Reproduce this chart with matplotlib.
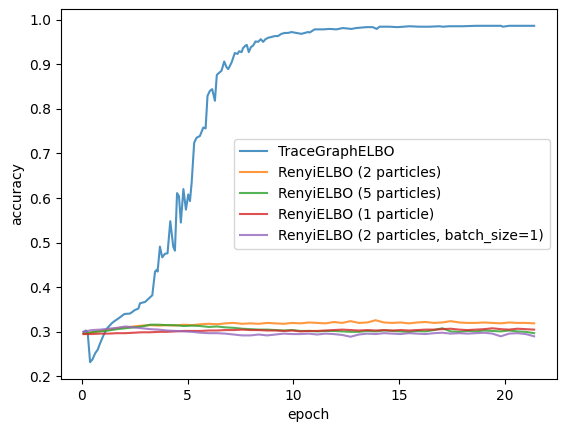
from matplotlib import pyplot as plt
import numpy as np

# TraceGraphELBO curve (epoch, accuracy)
trace_epoch = [0.08, 0.20, 0.28, 0.39, 0.50, 0.63, 0.75, 0.86, 1.02, 1.18, 1.41, 1.54,
               1.73, 2.01, 2.28, 2.51, 2.67, 2.75, 2.99, 3.17, 3.33, 3.46, 3.54, 3.58,
               3.69, 3.80, 3.93, 4.05, 4.18, 4.32, 4.40, 4.50, 4.59, 4.68, 4.80, 4.92,
               5.03, 5.11, 5.19, 5.31, 5.42, 5.58, 5.74, 5.85, 5.94, 6.05, 6.16, 6.29,
               6.38, 6.52, 6.60, 6.73, 6.84, 6.92, 7.08, 7.23, 7.36, 7.43, 7.55, 7.62,
               7.74, 7.80, 7.89, 7.99, 8.10, 8.21, 8.33, 8.46, 8.57, 8.68, 8.80, 8.96,
               9.12, 9.27, 9.43, 9.59, 9.75, 9.91, 10.14, 10.38, 10.69, 10.77, 11.00,
               11.40, 11.71, 12.03, 12.34, 12.74, 12.97, 13.44, 13.75, 13.94, 14.07,
               14.54, 14.93, 15.49, 15.96, 16.43, 16.90, 17.06, 17.37, 18.00, 18.63,
               19.26, 19.81, 19.90, 20.20, 20.83, 21.38]
trace_acc = [0.300, 0.303, 0.296, 0.232, 0.238, 0.252, 0.260, 0.274, 0.292, 0.307, 0.319, 0.324,
             0.330, 0.340, 0.341, 0.349, 0.352, 0.364, 0.367, 0.375, 0.382, 0.435, 0.439, 0.435,
             0.491, 0.467, 0.475, 0.476, 0.548, 0.491, 0.482, 0.611, 0.604, 0.545, 0.620, 0.574,
             0.608, 0.593, 0.634, 0.724, 0.735, 0.739, 0.758, 0.756, 0.829, 0.840, 0.844, 0.818,
             0.876, 0.882, 0.885, 0.906, 0.893, 0.889, 0.904, 0.925, 0.923, 0.929, 0.927, 0.936,
             0.942, 0.943, 0.927, 0.938, 0.942, 0.951, 0.950, 0.956, 0.950, 0.956, 0.959, 0.961,
             0.963, 0.963, 0.968, 0.970, 0.970, 0.972, 0.970, 0.968, 0.972, 0.971, 0.978,
             0.978, 0.979, 0.978, 0.981, 0.979, 0.981, 0.983, 0.983, 0.979, 0.984,
             0.984, 0.983, 0.985, 0.984, 0.984, 0.985, 0.984, 0.985, 0.985, 0.986,
             0.986, 0.986, 0.984, 0.986, 0.986, 0.986]

# epochs at which the Renyi runs were evaluated
renyi_epoch = np.linspace(0.08, 21.38, 55)

renyi_2p = [0.296, 0.299, 0.302, 0.305, 0.308, 0.310, 0.312, 0.314, 0.315, 0.314, 0.315,
            0.314, 0.316, 0.315, 0.317, 0.318, 0.317, 0.319, 0.320, 0.318, 0.319, 0.318,
            0.320, 0.319, 0.318, 0.320, 0.319, 0.321, 0.320, 0.319, 0.322, 0.320, 0.324,
            0.320, 0.321, 0.326, 0.321, 0.320, 0.321, 0.319, 0.321, 0.322, 0.320, 0.321,
            0.324, 0.321, 0.320, 0.320, 0.321, 0.320, 0.319, 0.321, 0.320, 0.320, 0.319]
renyi_5p = [0.296, 0.299, 0.301, 0.303, 0.306, 0.308, 0.310, 0.312, 0.316, 0.316, 0.315,
            0.315, 0.313, 0.314, 0.313, 0.311, 0.312, 0.310, 0.309, 0.307, 0.306, 0.305,
            0.305, 0.304, 0.303, 0.304, 0.302, 0.302, 0.301, 0.302, 0.302, 0.301, 0.300,
            0.300, 0.302, 0.301, 0.303, 0.302, 0.301, 0.300, 0.302, 0.301, 0.304, 0.308,
            0.301, 0.300, 0.302, 0.301, 0.303, 0.302, 0.301, 0.303, 0.301, 0.300, 0.297]
renyi_1p = [0.295, 0.295, 0.296, 0.296, 0.297, 0.297, 0.298, 0.299, 0.299, 0.300, 0.300,
            0.301, 0.302, 0.302, 0.302, 0.303, 0.303, 0.304, 0.304, 0.305, 0.304, 0.304,
            0.303, 0.303, 0.302, 0.303, 0.301, 0.302, 0.302, 0.303, 0.304, 0.305, 0.304,
            0.303, 0.304, 0.303, 0.304, 0.303, 0.304, 0.303, 0.304, 0.305, 0.305, 0.306,
            0.307, 0.305, 0.304, 0.305, 0.306, 0.308, 0.306, 0.305, 0.307, 0.306, 0.305]
renyi_2p_bs1 = [0.300, 0.304, 0.305, 0.307, 0.309, 0.312, 0.310, 0.308, 0.306, 0.305, 0.303,
                0.302, 0.301, 0.300, 0.298, 0.297, 0.297, 0.296, 0.294, 0.292, 0.292, 0.294,
                0.292, 0.294, 0.296, 0.295, 0.295, 0.296, 0.294, 0.296, 0.295, 0.293, 0.289,
                0.294, 0.296, 0.295, 0.297, 0.296, 0.295, 0.297, 0.296, 0.295, 0.297, 0.298,
                0.296, 0.297, 0.296, 0.297, 0.298, 0.296, 0.290, 0.296, 0.297, 0.295, 0.290]

fig = plt.figure(figsize=(5.67, 4.32), dpi=100)
ax = fig.add_subplot(111)
fig.subplots_adjust(left=0.1076, right=0.9818, bottom=0.1227, top=0.9792)

ax.plot(trace_epoch, trace_acc, alpha=0.8, label='TraceGraphELBO')
ax.plot(renyi_epoch, renyi_2p, alpha=0.8, label='RenyiELBO (2 particles)')
ax.plot(renyi_epoch, renyi_5p, alpha=0.8, label='RenyiELBO (5 particles)')
ax.plot(renyi_epoch, renyi_1p, alpha=0.8, label='RenyiELBO (1 particle)')
ax.plot(renyi_epoch, renyi_2p_bs1, alpha=0.8, label='RenyiELBO (2 particles, batch_size=1)')

ax.set_xlabel('epoch')
ax.set_ylabel('accuracy')
ax.legend(loc='center right')

fig.savefig('out.png')
